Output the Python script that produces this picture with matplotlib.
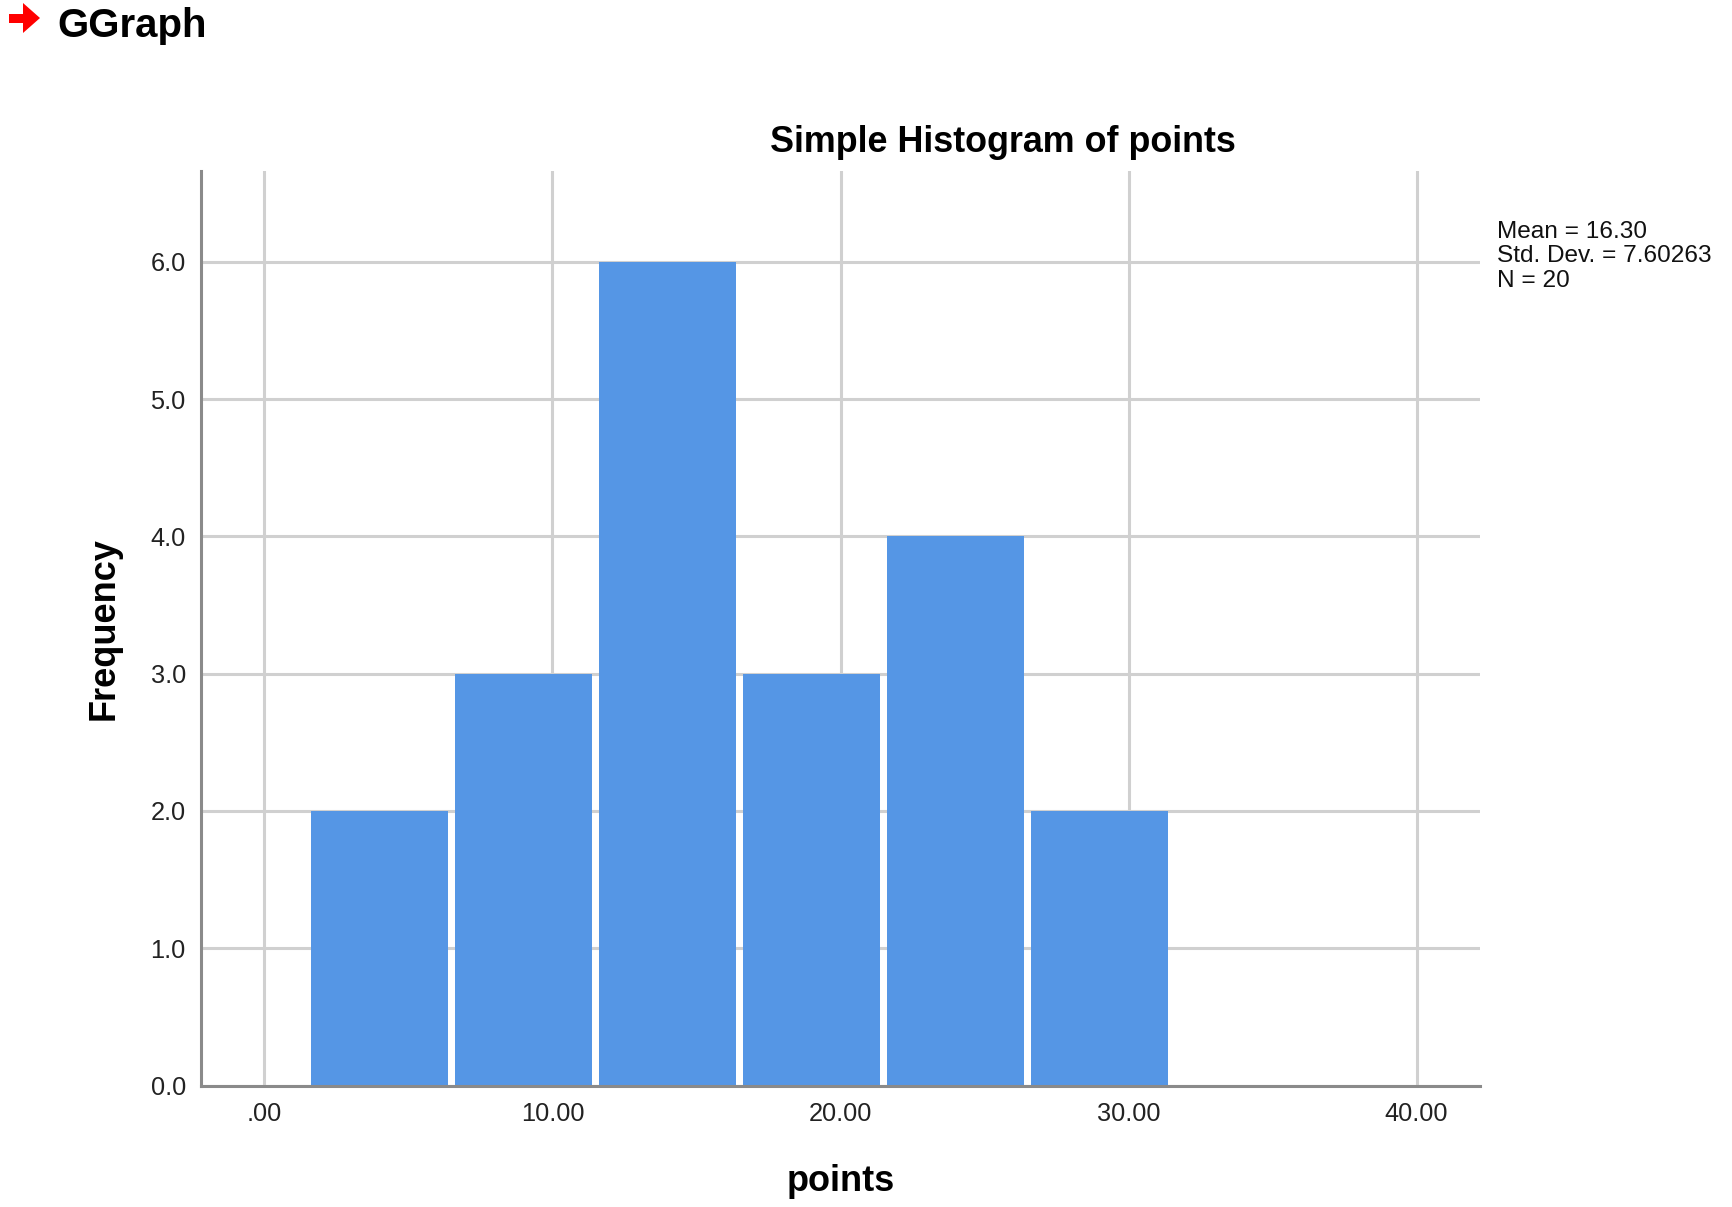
import numpy as np
import matplotlib.pyplot as plt
from matplotlib.patches import Polygon

plt.rcParams['font.family'] = ['Liberation Sans', 'DejaVu Sans']

# histogram data
bin_centers = [4.0, 9.0, 14.0, 19.0, 24.0, 29.0]
counts = [2, 3, 6, 3, 4, 2]
bin_width = 5.0
x_ticks = [0, 10, 20, 30, 40]
x_tick_labels = ['.00', '10.00', '20.00', '30.00', '40.00']
y_ticks = [0, 1, 2, 3, 4, 5, 6]
y_tick_labels = ['0.0', '1.0', '2.0', '3.0', '4.0', '5.0', '6.0']
stats = ['Mean = 16.30', 'Std. Dev. = 7.60263', 'N = 20']

fig = plt.figure(figsize=(17.33, 12.07), dpi=100)
ax = fig.add_axes([0.116, 0.1006, 0.738, 0.7576])

ax.bar(bin_centers, counts, width=bin_width * 0.954, color='#5596e5',
       edgecolor='none', zorder=2)

ax.set_xlim(-2.2, 42.2)
ax.set_ylim(0, 6.66)
ax.set_xticks(x_ticks)
ax.set_xticklabels(x_tick_labels)
ax.set_yticks(y_ticks)
ax.set_yticklabels(y_tick_labels)
ax.tick_params(length=0, labelsize=18.3, labelcolor='#222222')
ax.tick_params(axis='x', pad=12)
ax.tick_params(axis='y', pad=11)

ax.grid(True, color='#d0d0d0', linewidth=2.2, zorder=0)
ax.set_axisbelow(True)
for side in ['top', 'right']:
    ax.spines[side].set_visible(False)
for side in ['left', 'bottom']:
    ax.spines[side].set_color('#8a8a8a')
    ax.spines[side].set_linewidth(2.2)

ax.set_xlabel('points', fontsize=26, fontweight='bold', labelpad=27)
ax.set_ylabel('Frequency', fontsize=26, fontweight='bold', labelpad=21)

fig.text(0.5787, 0.882, 'Simple Histogram of points', fontsize=25.8,
         fontweight='bold', ha='center', va='center')

fig.text(0.8636, 0.7875, '\n'.join(stats), fontsize=17.6, ha='left',
         va='center', linespacing=1.16, color='#111111')

# SPSS output header: red block arrow + "GGraph"
arrow_px = [(9, 14), (23, 14), (23, 3), (40, 18), (23, 33), (23, 23), (9, 23)]
arrow_in = [(x / 100, (1207 - y) / 100) for x, y in arrow_px]
fig.patches.append(Polygon(arrow_in, closed=True, facecolor='#ff0000',
                           edgecolor='none', transform=fig.dpi_scale_trans))
fig.text(0.0333, 0.9785, 'GGraph', fontsize=29, fontweight='bold',
         ha='left', va='center')

fig.savefig('out.png', dpi=100)
